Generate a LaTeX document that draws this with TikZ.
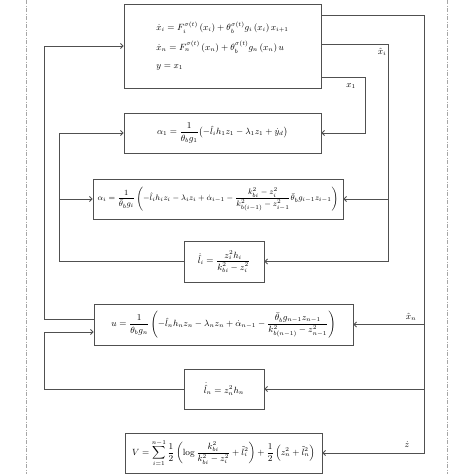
\documentclass[tikz,border=0pt]{standalone}
\usepackage{amsmath}
\usetikzlibrary{arrows.meta}
\definecolor{ln}{HTML}{505050}
\tikzset{
  box/.style={draw=ln, line width=0.9pt, fill=white, inner sep=0pt, font=\fontsize{9}{11}\selectfont},
  conn/.style={draw=ln, line width=0.9pt},
  arr/.style={conn, -{Straight Barb[length=2.5pt,width=5pt]}},
  lab/.style={font=\fontsize{9}{11}\selectfont, inner sep=0pt},
  frame/.style={draw=gray!70, line width=0.8pt, dash pattern=on 4pt off 1.5pt on 1pt off 1.5pt}
}
\begin{document}
\begin{tikzpicture}[x=1pt,y=-1pt]
\useasboundingbox (0,0) rectangle (474,474);
\fill[white] (0,0) rectangle (474,474);
\draw[frame] (26,0) -- (26,474);
\draw[frame] (447,0) -- (447,474);

\node[box, minimum width=197pt, minimum height=84pt, align=left] (top) at (222.5,46)
 {$\dot{x}_i = F_i^{\sigma(t)}\left(x_i\right) + \theta_b^{\sigma(t)} g_i\left(x_i\right) x_{i+1}$\\[7pt]
  $\dot{x}_n = F_n^{\sigma(t)}\left(x_n\right) + \theta_b^{\sigma(t)} g_n\left(x_n\right) u$\\[7pt]
  $y = x_1$};
\node[box, minimum width=197pt, minimum height=40pt] (a1) at (222.5,133)
 {$\displaystyle \alpha_1 = \frac{1}{\bar{\theta}_b g_1}\bigl(-\hat{l}_i h_1 z_1 - \lambda_1 z_1 + \dot{y}_d\bigr)$};
\node[box, minimum width=250pt, minimum height=40pt, font=\fontsize{8.5}{10}\selectfont] (ai) at (218,199)
 {$\displaystyle \alpha_i = \frac{1}{\bar{\theta}_b g_i}\left(-\hat{l}_i h_i z_i - \lambda_i z_i + \dot{\alpha}_{i-1} - \frac{k_{bi}^2 - z_i^2}{k_{b(i-1)}^2 - z_{i-1}^2}\bar{\theta}_b g_{i-1} z_{i-1}\right)$};
\node[box, minimum width=80pt, minimum height=41pt] (li) at (224,261.5)
 {$\displaystyle \dot{\hat{l}}_i = \frac{z_i^2 h_i}{k_{bi}^2 - z_i^2}$};
\node[box, minimum width=259pt, minimum height=41pt] (u) at (223.5,324.5)
 {$\displaystyle u = \frac{1}{\bar{\theta}_b g_n}\left(-\hat{l}_n h_n z_n - \lambda_n z_n + \dot{\alpha}_{n-1} - \frac{\bar{\theta}_b g_{n-1} z_{n-1}}{k_{b(n-1)}^2 - z_{n-1}^2}\right)$};
\node[box, minimum width=80pt, minimum height=40pt] (lnb) at (224,389)
 {$\dot{\hat{l}}_n = z_n^2 h_n$};
\node[box, minimum width=197pt, minimum height=40pt] (V) at (223.5,453)
 {$\displaystyle V = \sum_{i=1}^{n-1}\frac{1}{2}\left(\log\frac{k_{bi}^2}{k_{bi}^2 - z_i^2} + \tilde{l}_i^2\right) + \frac{1}{2}\left(z_n^2 + \tilde{l}_n^2\right)$};

\coordinate (r1) at (365,77);
\coordinate (r2) at (388,44);
\coordinate (r3) at (424,15);
\coordinate (l1) at (44,319);
\coordinate (l2) at (59,262);
\coordinate (l3) at (44,332);

\draw[arr] (top.east|-r3) -- (r3) |- (V.east);
\draw[arr] (r3|-u.east) -- (u.east);
\draw[arr] (r3|-lnb.east) -- (lnb.east);
\draw[arr] (top.east|-r2) -- (r2) |- (li.east);
\draw[arr] (r2|-ai.east) -- (ai.east);
\draw[arr] (top.east|-r1) -- (r1) |- (a1.east);
\draw[arr] (u.west|-l1) -- (l1) |- (top.west);
\draw[arr] (li.west) -| (l2|-a1.west) -- (a1.west);
\draw[arr] (l2|-ai.west) -- (ai.west);
\draw[arr] (lnb.west) -| (l3) -- (u.west|-l3);

\node[lab] (lxi) at (382,52) {$\hat{x}_i$};
\node[lab] (lx1) at (351,86) {$x_1$};
\node[lab] (lxn) at (411,317) {$\hat{x}_n$};
\node[lab] (lz) at (407,444) {$\dot{z}$};
\end{tikzpicture}
\end{document}
